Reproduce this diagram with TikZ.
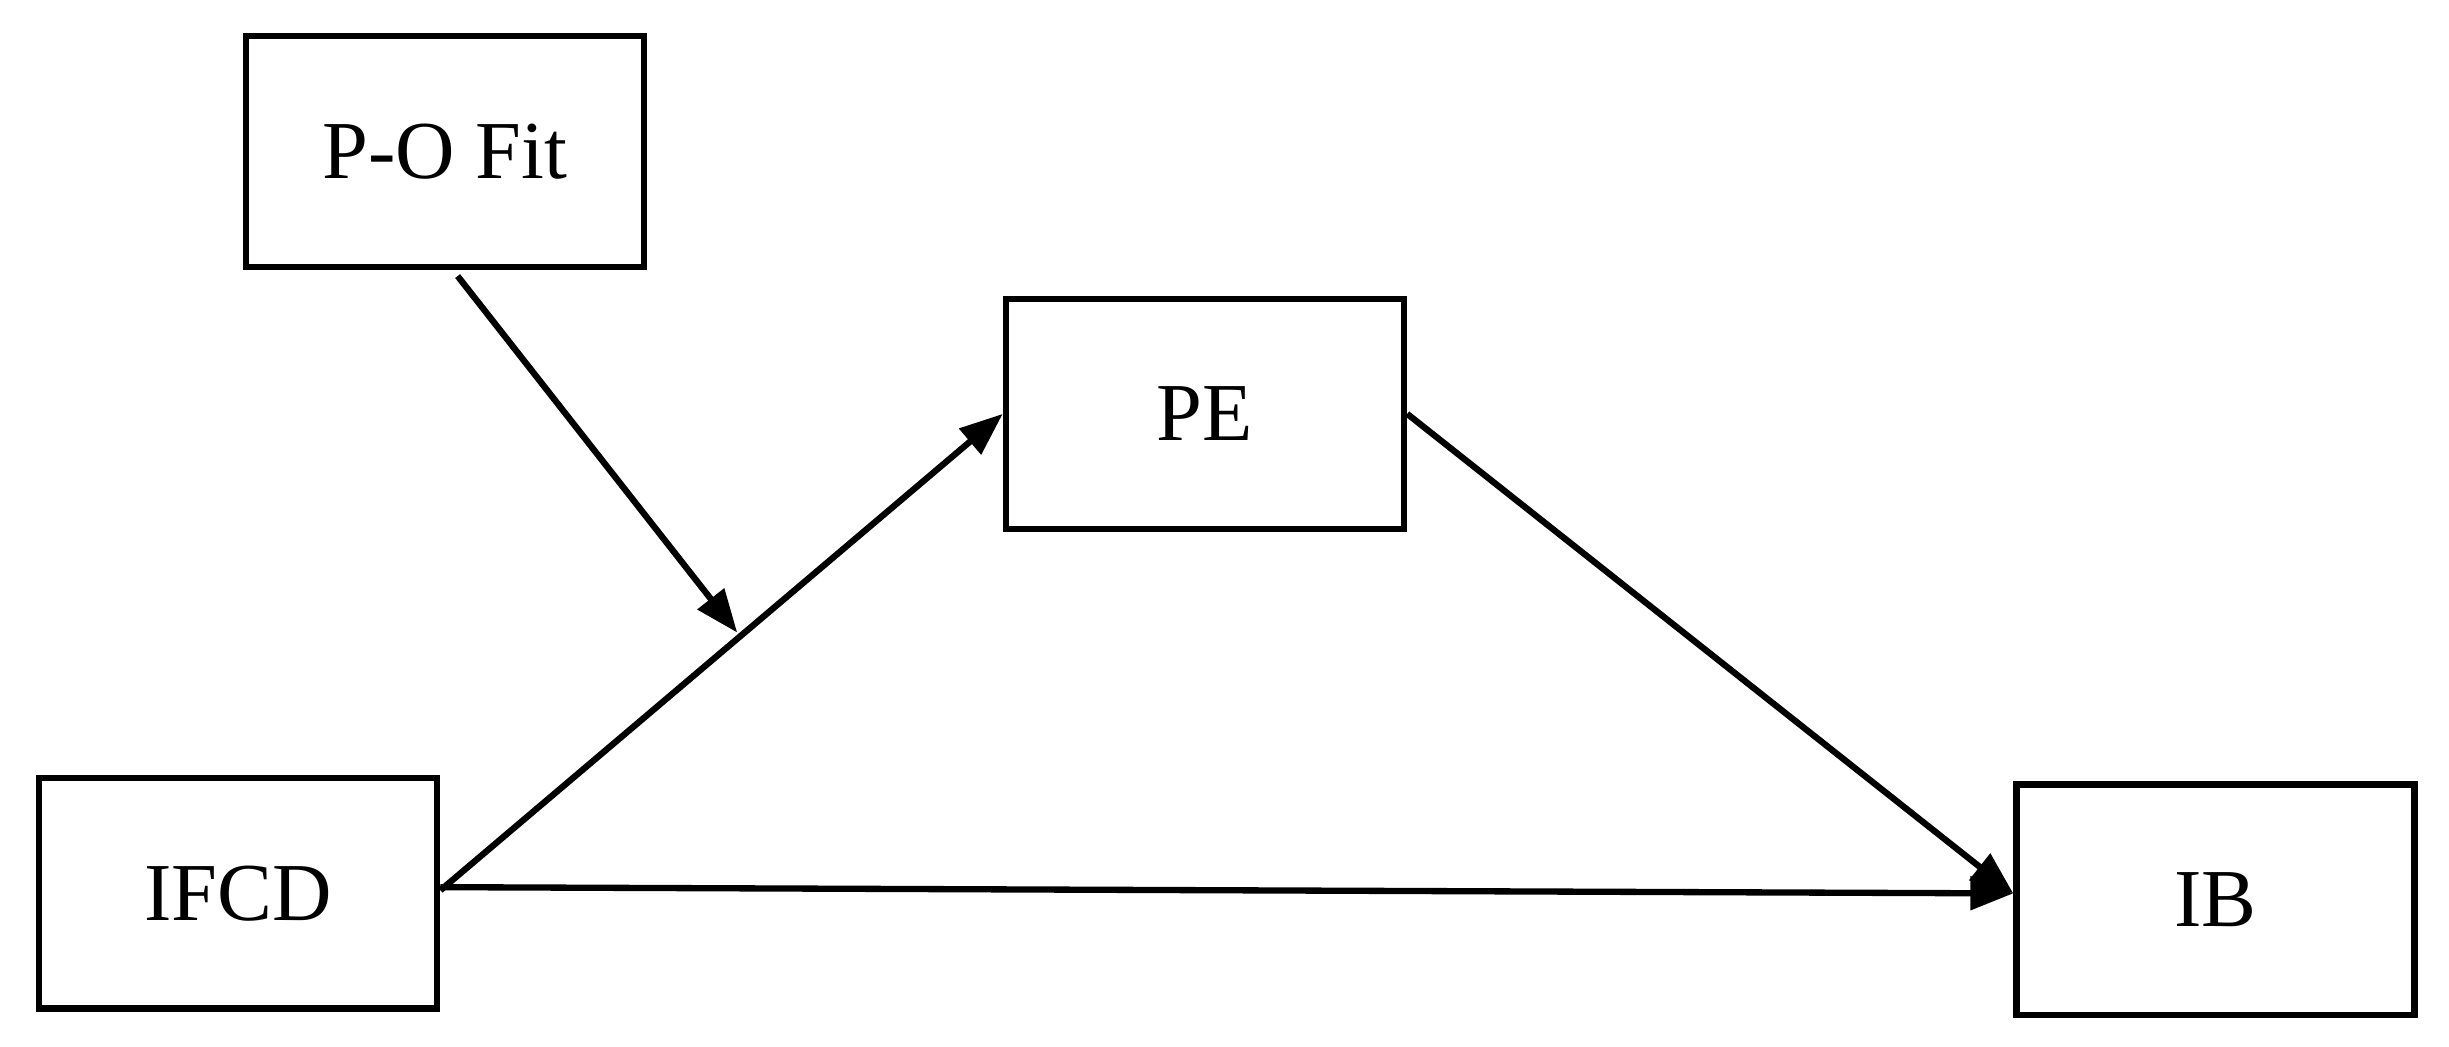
\documentclass[tikz,border=0pt]{standalone}
\usepackage{fontspec}
\setmainfont{Liberation Serif}
\usetikzlibrary{arrows.meta}
\begin{document}
\begin{tikzpicture}[x=0.02cm,y=-0.02cm,
  box/.style={draw,line width=2.3pt,minimum width=5.1cm,minimum height=2.95cm,font=\fontsize{30}{36}\selectfont},
  arr/.style={line width=2.3pt,-{Triangle[length=0.55cm,width=0.42cm]}}]
\useasboundingbox (0,0) rectangle (1568,670);
\node[box] (po) at (285,97) {P-O Fit};
\node[box] (pe) at (771.5,265) {PE};
\node[box] (ifcd) at (152.5,572) {IFCD};
\node[box] (ib) at (1418.5,576) {IB};
\coordinate (m) at (472,405);
\draw[arr] (ifcd.east) ++(0,-2) -- (pe.west);
\draw[arr] (po.south) ++(8,4) -- (m);
\draw[arr] (pe.east) -- ([yshift=0.08cm]ib.west);
\draw[arr] (ifcd.east) ++(0,-4) -- ([yshift=0.08cm]ib.west);
\end{tikzpicture}
\end{document}
